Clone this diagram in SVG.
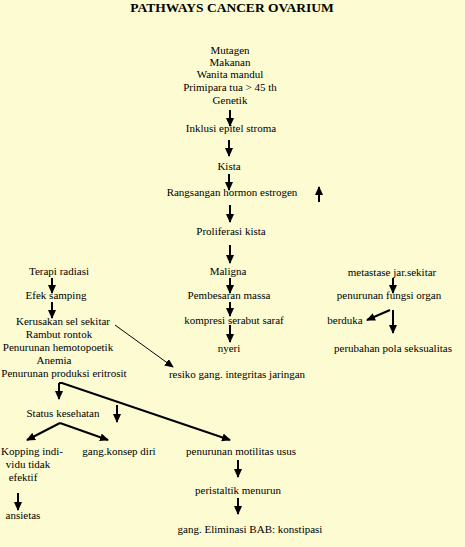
<svg xmlns="http://www.w3.org/2000/svg" width="465" height="547" viewBox="0 0 465 547">
<style>
text{font-size:11px;fill:#000}
.c{text-anchor:middle}
.t{font-size:13.5px;font-weight:bold}
.a{stroke:#000;stroke-width:2;fill:none;marker-end:url(#h)}
.thin{stroke:#000;stroke-width:1;fill:none;marker-end:url(#h)}
</style>
<defs>
<marker id="h" markerUnits="userSpaceOnUse" markerWidth="9" markerHeight="8" refX="8" refY="4" orient="auto" viewBox="0 0 9 8">
<path d="M0,0 L9,4 L0,8 z" fill="#000"/>
</marker>
</defs>
<rect width="465" height="547" fill="#FCFBD2"/>
<g font-family="'Liberation Serif', 'Times New Roman', 'DejaVu Serif', serif">
<text class="c t" x="232" y="12">PATHWAYS CANCER OVARIUM</text>
<g id="causes">
<text class="c" x="230" y="54">Mutagen</text>
<text class="c" x="230" y="66">Makanan</text>
<text class="c" x="230" y="78">Wanita mandul</text>
<text class="c" x="230" y="91">Primipara tua  &gt; 45 th</text>
<text class="c" x="230" y="104">Genetik</text>
</g>
<g id="inklusi"><text class="c" x="231" y="132">Inklusi epitel stroma</text></g>
<g id="kista"><text class="c" x="229" y="170">Kista</text></g>
<g id="rangsangan"><text class="c" x="232" y="196">Rangsangan hormon estrogen</text></g>
<g id="proliferasi"><text class="c" x="231" y="235">Proliferasi kista</text></g>
<g id="maligna"><text class="c" x="228" y="275">Maligna</text></g>
<g id="pembesaran"><text class="c" x="229" y="299">Pembesaran massa</text></g>
<g id="kompresi"><text class="c" x="234" y="324">kompresi serabut saraf</text></g>
<g id="nyeri"><text class="c" x="229" y="352">nyeri</text></g>
<g id="resiko"><text class="c" x="237" y="378">resiko gang. integritas jaringan</text></g>
<g id="terapi"><text class="c" x="59" y="275">Terapi radiasi</text></g>
<g id="efek"><text class="c" x="56" y="299">Efek samping</text></g>
<g id="kerusakan">
<text class="c" x="63" y="325">Kerusakan sel sekitar</text>
<text class="c" x="59" y="338">Rambut rontok</text>
<text class="c" x="58" y="351">Penurunan hemotopoetik</text>
<text class="c" x="54" y="364">Anemia</text>
<text class="c" x="64" y="377">Penurunan produksi eritrosit</text>
</g>
<g id="status"><text class="c" x="63" y="417">Status kesehatan</text></g>
<g id="kopping">
<text class="c" x="32" y="455">Kopping indi-</text>
<text class="c" x="28" y="468">vidu tidak</text>
<text class="c" x="23" y="481">efektif</text>
</g>
<g id="ansietas"><text class="c" x="23" y="519">ansietas</text></g>
<g id="konsep"><text class="c" x="119" y="455">gang.konsep diri</text></g>
<g id="motilitas"><text class="c" x="241" y="455">penurunan motilitas usus</text></g>
<g id="peristaltik"><text class="c" x="238" y="494">peristaltik menurun</text></g>
<g id="eliminasi"><text class="c" x="250" y="533">gang. Eliminasi BAB: konstipasi</text></g>
<g id="metastase"><text class="c" x="392" y="276">metastase jar.sekitar</text></g>
<g id="fungsi"><text class="c" x="389" y="299">penurunan fungsi organ</text></g>
<g id="berduka"><text class="c" x="345" y="324">berduka</text></g>
<g id="seksualitas"><text class="c" x="393" y="352">perubahan pola seksualitas</text></g>
</g>
<g id="connectors">
<line class="a" x1="230" y1="110" x2="230" y2="126"/>
<line class="a" x1="229" y1="140" x2="229" y2="156"/>
<line class="a" x1="229" y1="174" x2="229" y2="190"/>
<line class="a" x1="230" y1="205" x2="230" y2="222"/>
<line class="a" x1="230" y1="245" x2="230" y2="263"/>
<line class="a" x1="230" y1="278" x2="230" y2="293"/>
<line class="a" x1="230" y1="302" x2="230" y2="316"/>
<line class="a" x1="230" y1="325" x2="230" y2="342"/>
<line class="a" x1="319" y1="202" x2="319" y2="187"/>
<line class="a" x1="52" y1="278" x2="52" y2="293"/>
<line class="a" x1="52" y1="302" x2="52" y2="318"/>
<line class="thin" x1="115" y1="325" x2="173" y2="367"/>
<line class="a" x1="59" y1="383" x2="59" y2="399"/>
<polyline class="a" points="59,383 62,383 230,440"/>
<line class="a" x1="117" y1="405" x2="117" y2="422"/>
<line class="a" x1="60" y1="423" x2="27" y2="440"/>
<line class="a" x1="60" y1="423" x2="108" y2="440"/>
<line class="a" x1="18" y1="493" x2="18" y2="510"/>
<line class="a" x1="238" y1="460" x2="238" y2="477"/>
<line class="a" x1="238" y1="498" x2="238" y2="514"/>
<line class="a" x1="393" y1="278" x2="393" y2="293"/>
<line class="a" x1="390" y1="310" x2="367" y2="320"/>
<line class="a" x1="393" y1="310" x2="393" y2="333"/>
</g>
</svg>
